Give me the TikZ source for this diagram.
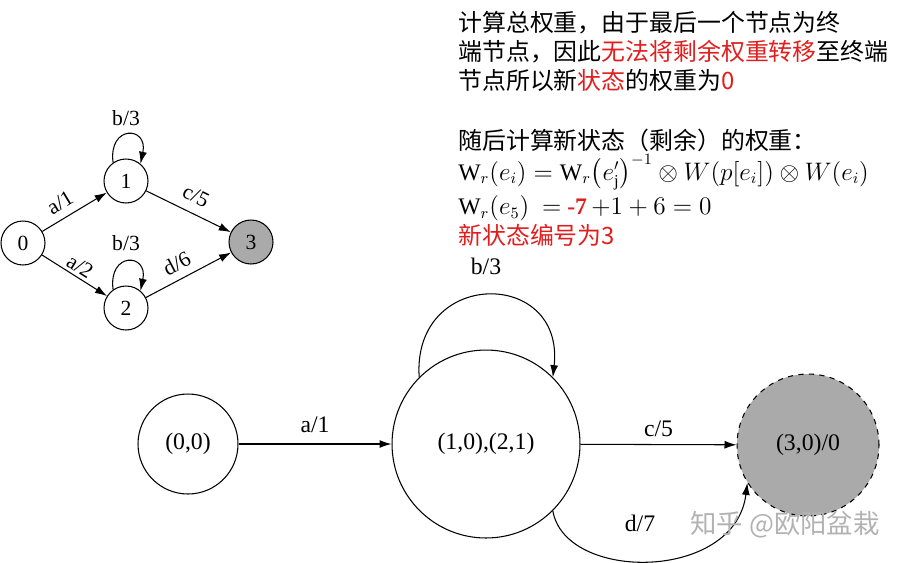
\documentclass[tikz,border=0pt]{standalone}
\usepackage{amsmath}
\usepackage{fontspec}
\setmainfont{Liberation Serif}
\newfontfamily\cjk{Noto Sans CJK SC}
\usetikzlibrary{arrows.meta}
\definecolor{hired}{RGB}{225,30,30}
\definecolor{stategray}{RGB}{170,170,170}

\begin{document}
\begin{tikzpicture}[x=0.02cm,y=-0.02cm,
  st/.style={draw,circle,inner sep=0pt,line width=0.6pt},
  smallst/.style={st,minimum size=0.88cm,font=\fontsize{12.3}{14}\selectfont},
  bigst/.style={st,font=\fontsize{13.5}{16}\selectfont},
  arr/.style={-{Latex[length=2.4mm,width=1.6mm]},line width=0.6pt},
  txt/.style={anchor=west,inner sep=0pt,font=\cjk\fontsize{13.6}{16}\selectfont},
  mathtxt/.style={anchor=west,inner sep=0pt,font=\fontsize{13.5}{16}\selectfont},
  lbl/.style={font=\fontsize{12.3}{14}\selectfont,inner sep=1.5pt},
  biglbl/.style={font=\fontsize{13.5}{16}\selectfont,inner sep=1pt}]

\useasboundingbox (0,0) rectangle (905,562);

% small automaton
\node[smallst] (s0) at (23,243) {0};
\node[smallst] (s1) at (126,181) {1};
\node[smallst] (s2) at (126,308) {2};
\node[smallst,fill=stategray] (s3) at (251,242) {3};

\draw[arr] (s0) -- node[lbl,above=3pt,sloped,pos=0.4] {a/1} (s1);
\draw[arr] (s0) -- node[lbl,above,sloped] {a/2} (s2);
\draw[arr] (s1) -- node[lbl,above=4pt,sloped] {c/5} (s3);
\draw[arr] (s2) -- node[lbl,above=3pt,sloped,pos=0.45] {d/6} (s3);
\draw[arr] (s1.125) .. controls +(-5,-38) and +(8,-38) .. (s1.50);
\draw[arr] (s2.125) .. controls +(-5,-38) and +(8,-38) .. (s2.50);
\node[lbl] (l1) at (126,118) {b/3};
\node[lbl] (l2) at (126,243) {b/3};

% determinized automaton
\node[bigst,minimum size=2cm] (d0) at (188,444) {(0,0)};
\node[bigst,minimum size=3.76cm] (d1) at (486,444) {(1,0),(2,1)};
\node[bigst,minimum size=2.84cm,fill=stategray,dashed] (d2) at (808,445) {(3,0)/0};

\draw[arr] (d0) -- node[biglbl,above=5pt] {a/1} (d1);
\draw[arr] (d1) -- node[biglbl,above=3pt] {c/5} (d2);
\draw[arr] (d1.135) .. controls (412,268) and (565,268) .. (d1.45);
\node[biglbl] (lb) at (486,266) {b/3};
\draw[arr] (d1.-45) .. controls (565,582) and (735,582) .. (d2.212);
\node[biglbl] (ld) at (640,523) {d/7};

% explanation
\node[txt] (t1) at (458,23) {计算总权重，由于最后一个节点为终};
\node[txt] (t2) at (458,52) {端节点，因此\textcolor{hired}{无法将剩余权重转移}至终端};
\node[txt] (t3) at (458,80) {节点所以新\textcolor{hired}{状态}的权重为\textcolor{hired}{0}};
\node[txt] (t4) at (458,140) {随后计算新状态（剩余）的权重：};
\node[mathtxt] (t5) at (458,172) {$\mathrm{W}_r(e_i)=\mathrm{W}_r\bigl(e_{\mathrm{j}}'\bigr)^{-1}\otimes W(p[e_i])\otimes W(e_i)$};
\node[mathtxt] (t6) at (458,208) {$\mathrm{W}_r(e_5)\ =\ $\textcolor{hired}{\textbf{-7}}$\,+1+6=0$};
\node[txt,text=hired] (t7) at (458,235) {新状态编号为3};

\node[font=\cjk\fontsize{15}{17}\selectfont,text=black!30] (wm) at (785,525) {知乎 @欧阳盆栽};
\end{tikzpicture}
\end{document}
